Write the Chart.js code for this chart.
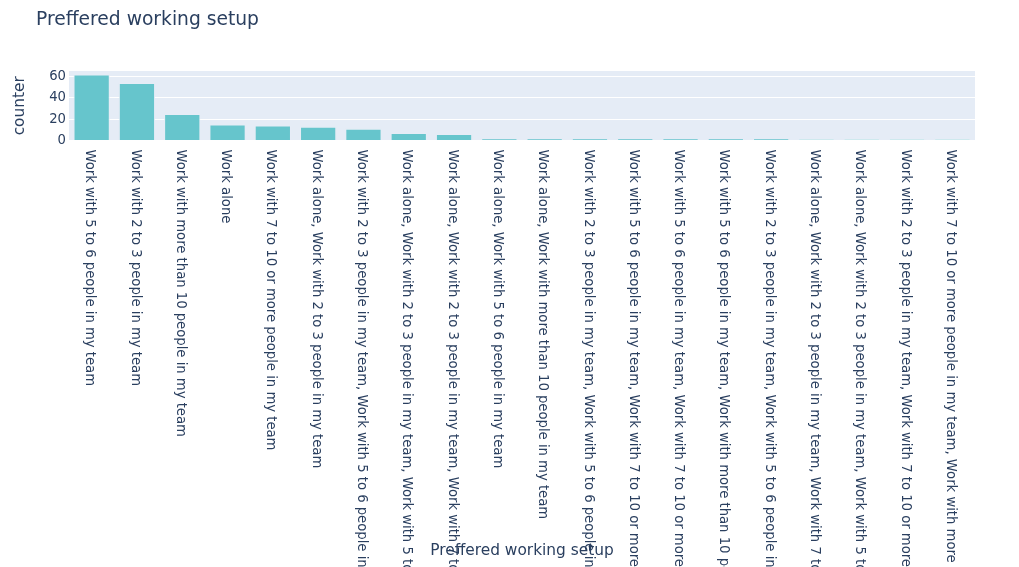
<!DOCTYPE html>
<html>
<head>
<meta charset="utf-8">
<script src="https://cdn.jsdelivr.net/npm/chart.js@4"></script>
<style>
  html, body { margin: 0; padding: 0; background: #fff; }
  #setup { display: block; }
</style>
</head>
<body>
<canvas id="setup" width="1019" height="567"></canvas>
<script>
// data
const setups = [
	"Work with 5 to 6 people in my team",
	"Work with 2 to 3 people in my team",
	"Work with more than 10 people in my team",
	"Work alone",
	"Work with 7 to 10 or more people in my team",
	"Work alone, Work with 2 to 3 people in my team",
	"Work with 2 to 3 people in my team, Work with 5 to 6 people in my team",
	"Work alone, Work with 2 to 3 people in my team, Work with 5 to 6 people in my team",
	"Work alone, Work with 2 to 3 people in my team, Work with 7 to 10 or more people in my team",
	"Work alone, Work with 5 to 6 people in my team",
	"Work alone, Work with more than 10 people in my team",
	"Work with 2 to 3 people in my team, Work with 5 to 6 people in my team, Work with 7 to 10 or more people in my team",
	"Work with 5 to 6 people in my team, Work with 7 to 10 or more people in my team",
	"Work with 5 to 6 people in my team, Work with 7 to 10 or more people in my team, Work with more than 10 people in my team",
	"Work with 5 to 6 people in my team, Work with more than 10 people in my team",
	"Work with 2 to 3 people in my team, Work with 5 to 6 people in my team, Work with more than 10 people in my team",
	"Work alone, Work with 2 to 3 people in my team, Work with 7 to 10 or more people in my team, Work with more than 10 people in my team",
	"Work alone, Work with 2 to 3 people in my team, Work with 5 to 6 people in my team, Work with 7 to 10 or more people in my team",
	"Work with 2 to 3 people in my team, Work with 7 to 10 or more people in my team",
	"Work with 7 to 10 or more people in my team, Work with more than 10 people in my team",
];
const counter = [62, 54, 25, 15, 14, 13, 11, 7, 6, 2, 1, 1, 1, 1, 1, 1, 0, 0, 0, 0];
const yTicks = [0, 20, 40, 60];

const chartTitle = "Preffered working setup";
const xTitle = "Preffered working setup";
const yTitle = "counter";

const FONT = "'DejaVu Sans', Verdana, sans-serif";
const INK = "#2a3f5f";

// plot background, rotated category labels and titles
const plotlyLook = {
	id: "plotlyLook",
	beforeDraw(chart) {
		const { ctx, chartArea } = chart;
		ctx.save();
		ctx.fillStyle = "#e5ecf6";
		ctx.fillRect(chartArea.left, chartArea.top, chartArea.right - chartArea.left, chartArea.bottom - chartArea.top);
		ctx.restore();
	},
	afterDraw(chart) {
		const { ctx, chartArea } = chart;
		const xScale = chart.scales.x;
		ctx.save();
		ctx.fillStyle = INK;
		ctx.font = "13.2px " + FONT;
		ctx.textAlign = "left";
		ctx.textBaseline = "middle";
		setups.forEach((label, i) => {
			const x = xScale.getPixelForTick(i);
			ctx.save();
			ctx.translate(x - 2, chartArea.bottom + 9);
			ctx.rotate(Math.PI / 2);
			ctx.fillText(label, 0, 0);
			ctx.restore();
		});

		ctx.font = "18.7px " + FONT;
		ctx.textBaseline = "middle";
		ctx.fillText(chartTitle, 36, 20);

		ctx.font = "15.4px " + FONT;
		ctx.textAlign = "center";
		ctx.fillText(xTitle, (chartArea.left + chartArea.right) / 2, 551);
		ctx.restore();
	},
};

const ctx = document.getElementById("setup").getContext("2d");

new Chart(ctx, {
	type: "bar",
	data: {
		labels: setups,
		datasets: [
			{
				label: yTitle,
				data: counter,
				backgroundColor: counter.map((v) => (v === 0 ? "#c6e8eb" : "#66c5cc")),
				borderColor: "rgba(229, 236, 246, 0.9)",
				borderWidth: 1,
				minBarLength: 2,
				barPercentage: 0.8,
				categoryPercentage: 1,
			},
		],
	},
	options: {
		responsive: false,
		animation: false,
		devicePixelRatio: 1,
		layout: {
			padding: { top: 71, right: 44, bottom: 0, left: 0 },
		},
		plugins: {
			legend: { display: false },
			tooltip: { enabled: false },
			title: { display: false },
		},
		scales: {
			x: {
				grid: { display: false },
				border: { display: false },
				ticks: { display: false },
				afterFit: (scale) => {
					scale.height = 426.5;
				},
			},
			y: {
				min: 0,
				max: 65.26,
				grid: { color: "#ffffff", lineWidth: 1, drawTicks: false },
				border: { display: false },
				ticks: {
					color: INK,
					padding: 3,
					font: { size: 13.2, family: FONT },
				},
				afterBuildTicks: (scale) => {
					scale.ticks = yTicks.map((v) => ({ value: v }));
				},
				title: {
					display: true,
					text: yTitle,
					color: INK,
					font: { size: 15.4, family: FONT },
					padding: { top: 11, bottom: 0 },
				},
				afterFit: (scale) => {
					scale.width = 69;
				},
			},
		},
	},
	plugins: [plotlyLook],
});
</script>
</body>
</html>
